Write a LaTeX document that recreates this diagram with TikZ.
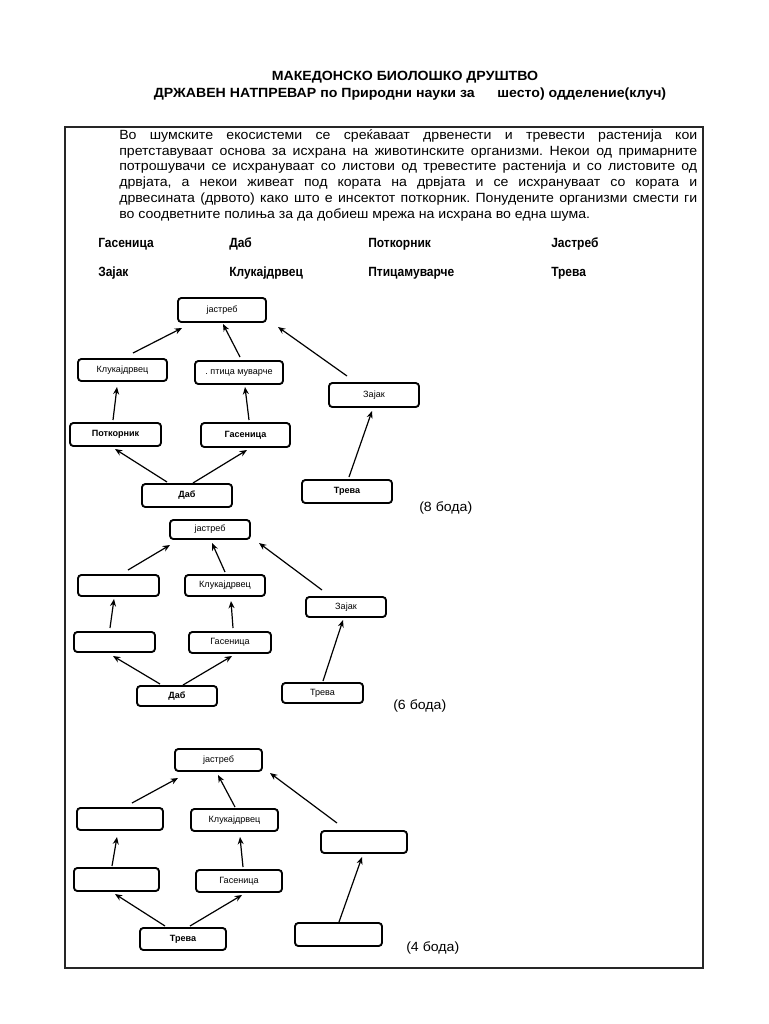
\documentclass[tikz,border=0pt]{standalone}
\usepackage{fontspec}
\setmainfont{Liberation Sans}
\newfontfamily\widefont[FakeStretch=1.06]{Liberation Sans}
\newfontfamily\narrowfont[FakeStretch=0.9]{Liberation Sans}
\usetikzlibrary{arrows.meta}
\frenchspacing
\begin{document}
\begin{tikzpicture}[x=0.75pt,y=-0.75pt,
  bx/.style 2 args={draw, line width=1.4pt, rounded corners=2.5pt, inner sep=0pt,
     minimum width=#1*0.75pt, minimum height=#2*0.75pt, font=\fontsize{6.8}{7}\selectfont},
  bb/.style={font=\fontsize{6.8}{7}\selectfont\bfseries},
  arr/.style={line width=0.9pt, -{Stealth[length=5.5pt,width=4.5pt]}},
  ttl/.style={anchor=base, inner sep=0pt, font=\widefont\fontsize{10}{12}\selectfont\bfseries},
  word/.style={anchor=base west, inner sep=0pt, font=\narrowfont\fontsize{10}{12}\selectfont\bfseries},
  pts/.style={anchor=base west, inner sep=0pt, font=\widefont\fontsize{10}{12}\selectfont}]
\useasboundingbox[fill=white] (0,0) rectangle (768,1024);
% title
\node[ttl] (t1) at (405,80) {МАКЕДОНСКО БИОЛОШКО ДРУШТВО};
\node[ttl] (t2) at (410,98) {ДРЖАВЕН НАТПРЕВАР по Природни науки за\hspace{1.7em}шесто) одделение(клуч)};
% frame
\draw[line width=1pt, black!85] (65,127) rectangle (703,968);
% paragraph
\node[anchor=north west, inner sep=0pt, text width=433.5pt, align=justify,
      font=\widefont\fontsize{10}{11.8}\selectfont] (para) at (119,129.3)
{Во шумските екосистеми се среќаваат дрвенести и тревести растенија кои\linebreak
претставуваат основа за исхрана на животинските организми. Некои од примарните\linebreak
потрошувачи се исхрануваат со листови од тревестите растенија и со листовите од\linebreak
дрвјата, а некои живеат под кората на дрвјата и се исхрануваат со кората и\linebreak
дрвесината (дрвото) како што е инсектот поткорник. Понудените организми смести ги\linebreak
во соодветните полиња за да добиеш мрежа на исхрана во една шума.};
% word list
\node[word] (w1) at (98,247) {Гасеница};
\node[word] (w2) at (229,247) {Даб};
\node[word] (w3) at (368,247) {Поткорник};
\node[word] (w4) at (551,247) {Јастреб};
\node[word] (w5) at (98,276) {Зајак};
\node[word] (w6) at (229,276) {Клукајдрвец};
\node[word] (w7) at (368,276) {Птицамуварче};
\node[word] (w8) at (551,276) {Трева};

% ---------- diagram 1
\node[bx={88}{24}] (j1) at (222,310) {јастреб};
\node[bx={89}{22}] (k1) at (122.5,370) {Клукајдрвец};
\node[bx={88}{23}] (p1) at (239,372.5) {. птица муварче};
\node[bx={90}{24}] (z1) at (374,395) {Зајак};
\node[bx={91}{23},bb] (c1) at (115.5,434.5) {Поткорник};
\node[bx={89}{24},bb] (g1) at (245.5,435) {Гасеница};
\node[bx={90}{23},bb] (d1) at (187,495.5) {Даб};
\node[bx={90}{23},bb] (r1) at (347,491.5) {Трева};
\draw[arr] ([shift={(10.5,-17)}]k1.center) -- ([shift={(-40,18)}]j1.center);
\draw[arr] ([shift={(1,-15.5)}]p1.center) -- ([shift={(1,14)}]j1.center);
\draw[arr] ([shift={(-27,-19)}]z1.center) -- ([shift={(56,17)}]j1.center);
\draw[arr] ([shift={(-2.5,-14.5)}]c1.center) -- ([shift={(-5.5,17)}]k1.center);
\draw[arr] ([shift={(3.5,-15)}]g1.center) -- ([shift={(6,14.5)}]p1.center);
\draw[arr] ([shift={(-20,-13.5)}]d1.center) -- ([shift={(-0.5,14.5)}]c1.center);
\draw[arr] ([shift={(6,-12.5)}]d1.center) -- ([shift={(1.5,15)}]g1.center);
\draw[arr] ([shift={(2,-14.5)}]r1.center) -- ([shift={(-2,16)}]z1.center);
\node[pts] (s1) at (419,511) {(8 бода)};

% ---------- diagram 2
\node[bx={80}{19}] (j2) at (210,529.5) {јастреб};
\node[bx={81}{21}] (a2) at (118.5,585.5) {};
\node[bx={80}{21}] (k2) at (225,585.5) {Клукајдрвец};
\node[bx={80}{20}] (z2) at (346,607) {Зајак};
\node[bx={81}{20}] (b2) at (114.5,642) {};
\node[bx={82}{21}] (g2) at (230,642.5) {Гасеница};
\node[bx={80}{20},bb] (d2) at (177,696) {Даб};
\node[bx={81}{20}] (r2) at (322.5,693) {Трева};
\draw[arr] ([shift={(9.5,-15.5)}]a2.center) -- ([shift={(-40,15.5)}]j2.center);
\draw[arr] ([shift={(0,-13.5)}]k2.center) -- ([shift={(2,13.5)}]j2.center);
\draw[arr] ([shift={(-24,-17)}]z2.center) -- ([shift={(49,13.5)}]j2.center);
\draw[arr] ([shift={(-4.5,-14)}]b2.center) -- ([shift={(-4.5,13.5)}]a2.center);
\draw[arr] ([shift={(3,-14.5)}]g2.center) -- ([shift={(6,15.5)}]k2.center);
\draw[arr] ([shift={(-17,-12)}]d2.center) -- ([shift={(-1.5,14)}]b2.center);
\draw[arr] ([shift={(6,-11)}]d2.center) -- ([shift={(2,13.5)}]g2.center);
\draw[arr] ([shift={(0.5,-12)}]r2.center) -- ([shift={(-3,13)}]z2.center);
\node[pts] (s2) at (393,709) {(6 бода)};

% ---------- diagram 3
\node[bx={87}{22}] (j3) at (218.5,760) {јастреб};
\node[bx={86}{22}] (a3) at (120,819) {};
\node[bx={87}{22}] (k3) at (234.5,820) {Клукајдрвец};
\node[bx={86}{22}] (z3) at (364,842) {};
\node[bx={85}{23}] (b3) at (116.5,879.5) {};
\node[bx={86}{22}] (g3) at (239,881) {Гасеница};
\node[bx={86}{22},bb] (r3) at (183,939) {Трева};
\node[bx={87}{23}] (e3) at (338.5,934.5) {};
\draw[arr] ([shift={(12,-16)}]a3.center) -- ([shift={(-40.5,18)}]j3.center);
\draw[arr] ([shift={(0.5,-13)}]k3.center) -- ([shift={(-0.5,15)}]j3.center);
\draw[arr] ([shift={(-27,-19)}]z3.center) -- ([shift={(51.5,13)}]j3.center);
\draw[arr] ([shift={(-4.5,-13.5)}]b3.center) -- ([shift={(-3,18)}]a3.center);
\draw[arr] ([shift={(4,-14)}]g3.center) -- ([shift={(5.5,17)}]k3.center);
\draw[arr] ([shift={(-18,-13)}]r3.center) -- ([shift={(-1.5,14.5)}]b3.center);
\draw[arr] ([shift={(7,-13)}]r3.center) -- ([shift={(3,14)}]g3.center);
\draw[arr] ([shift={(0.5,-12.5)}]e3.center) -- ([shift={(-2,15)}]z3.center);
\node[pts] (s3) at (406,951) {(4 бода)};
\end{tikzpicture}
\end{document}
